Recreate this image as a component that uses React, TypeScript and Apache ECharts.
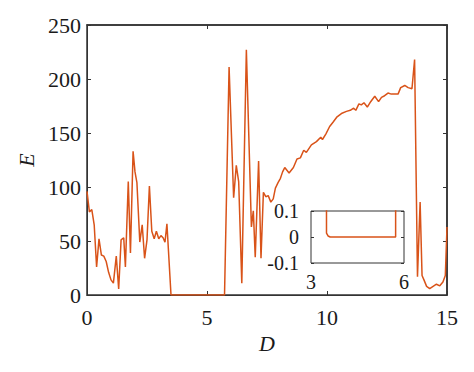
import React, { useEffect, useRef } from "react";
import * as echarts from "echarts";

// D values (x) and E values (y)
const D = [
  0, 0.1, 0.2, 0.3, 0.4, 0.5, 0.6, 0.7, 0.8, 0.9,
  1.0, 1.1, 1.22, 1.32, 1.42, 1.53, 1.6, 1.72, 1.81, 1.92,
  2.0, 2.08, 2.2, 2.3, 2.4, 2.5, 2.6, 2.7, 2.8, 2.89,
  2.99, 3.08, 3.17, 3.25, 3.33, 3.5, 3.55, 3.62, 5.73, 5.92,
  6.11, 6.22, 6.32, 6.45, 6.64, 6.85, 6.93, 7.01, 7.15, 7.25,
  7.35, 7.45, 7.55, 7.66, 7.76, 7.85, 7.96, 8.06, 8.15, 8.24,
  8.42, 8.6, 8.75, 8.89, 9.03, 9.14, 9.35, 9.56, 9.74, 9.81,
  9.95, 10.11, 10.25, 10.42, 10.6, 10.81, 10.97, 11.11, 11.2, 11.33,
  11.43, 11.54, 11.68, 11.82, 11.99, 12.15, 12.27, 12.36, 12.54, 12.68,
  12.96, 13.07, 13.24, 13.38, 13.54, 13.65, 13.77, 13.88, 13.96, 14.04,
  14.15, 14.28, 14.42, 14.56, 14.7, 14.83, 14.93, 15,
];
const E = [
  96, 77, 79, 65, 26, 52, 37, 36, 31, 21,
  14, 11, 36, 5.5, 51, 53, 26, 105, 39, 133,
  114, 104, 49, 65, 34, 51, 101, 59, 52, 59,
  52, 55, 53, 49, 66, 0.015, 0.004, 0, 0, 211,
  90, 120, 105, 11, 227, 63, 78, 35, 124, 34,
  95, 91, 92, 86, 89, 99, 104, 108, 114, 118,
  113, 118, 126, 127, 134, 132, 139, 142, 146, 144,
  149, 156, 160, 165, 168, 170, 171, 173, 171, 177,
  176, 178, 174, 179, 184, 179, 183, 184, 187, 186,
  186, 192, 194, 192, 191, 218, 17, 86, 18, 14,
  8, 6, 8, 10, 8.5, 12, 18, 63,
];

const LINE_COLOR = "#D95319";
const AXIS_COLOR = "#333333";
const TEXT_COLOR = "#1a1a1a";
const FONT = "'Liberation Serif', 'Times New Roman', serif";

export default function App() {
  const ref = useRef<HTMLDivElement>(null);
  useEffect(() => {
    if (!ref.current) return;
    const chart = echarts.init(ref.current, undefined, { renderer: "svg" });
    const data = D.map((d, i) => [d, E[i]]);
    const axLine = (w: number) => ({ show: true, onZero: false, lineStyle: { color: AXIS_COLOR, width: w } });
    const tick = (len: number) => ({ show: true, inside: true, length: len, lineStyle: { color: AXIS_COLOR } });
    const lbl = (size: number, margin: number) => ({ fontFamily: FONT, fontSize: size, color: TEXT_COLOR, margin });
    const nameStyle = () => ({ fontFamily: FONT, fontStyle: "italic", fontSize: 22, color: TEXT_COLOR });
    chart.setOption({
      animation: false,
      backgroundColor: "#fff",
      grid: [
        { left: 87, top: 25, width: 360, height: 270, show: true, backgroundColor: "transparent", borderColor: AXIS_COLOR, borderWidth: 1.5 },
        { left: 311, top: 211, width: 93, height: 52, show: true, backgroundColor: "#fff", borderColor: AXIS_COLOR, borderWidth: 1, z: 5 },
      ],
      xAxis: [
        { type: "value", gridIndex: 0, position: "bottom", min: 0, max: 15, interval: 5, axisLine: axLine(1), axisTick: tick(4), axisLabel: lbl(22, 11), splitLine: { show: false }, name: "D", nameLocation: "middle", nameGap: 35, nameTextStyle: nameStyle() },
        { type: "value", gridIndex: 0, position: "top", min: 0, max: 15, interval: 5, axisLine: axLine(1.5), axisTick: tick(4), axisLabel: { show: false }, splitLine: { show: false } },
        { type: "value", gridIndex: 1, position: "bottom", min: 3, max: 6, interval: 3, axisLine: { show: false, onZero: false }, axisTick: { show: false }, axisLabel: lbl(20, 9), splitLine: { show: false }, z: 6 },
      ],
      yAxis: [
        { type: "value", gridIndex: 0, position: "left", min: 0, max: 250, interval: 50, axisLine: axLine(1), axisTick: tick(4), axisLabel: lbl(22, 6), splitLine: { show: false }, name: "E", nameLocation: "middle", nameRotate: 90, nameGap: 50, nameTextStyle: nameStyle() },
        { type: "value", gridIndex: 0, position: "right", min: 0, max: 250, interval: 50, axisLine: axLine(1.5), axisTick: tick(4), axisLabel: { show: false }, splitLine: { show: false } },
        { type: "value", gridIndex: 1, position: "left", min: -0.1, max: 0.1, interval: 0.1, axisLine: { show: false, onZero: false }, axisTick: tick(3), axisLabel: lbl(20, 12), splitLine: { show: false }, z: 6 },
        { type: "value", gridIndex: 1, position: "right", min: -0.1, max: 0.1, interval: 0.1, axisLine: { show: false, onZero: false }, axisTick: tick(3), axisLabel: { show: false }, splitLine: { show: false }, z: 6 },
      ],
      series: [
        { type: "line", xAxisIndex: 0, yAxisIndex: 0, data, showSymbol: false, symbol: "none", z: 3, lineStyle: { color: LINE_COLOR, width: 1.5 } },
        { type: "line", xAxisIndex: 2, yAxisIndex: 2, data, showSymbol: false, symbol: "none", z: 8, clip: true, lineStyle: { color: LINE_COLOR, width: 1.5 } },
      ],
    });
    return () => chart.dispose();
  }, []);
  return <div ref={ref} style={{ position: "fixed", left: 0, top: 0, width: 474, height: 372 }} />;
}
